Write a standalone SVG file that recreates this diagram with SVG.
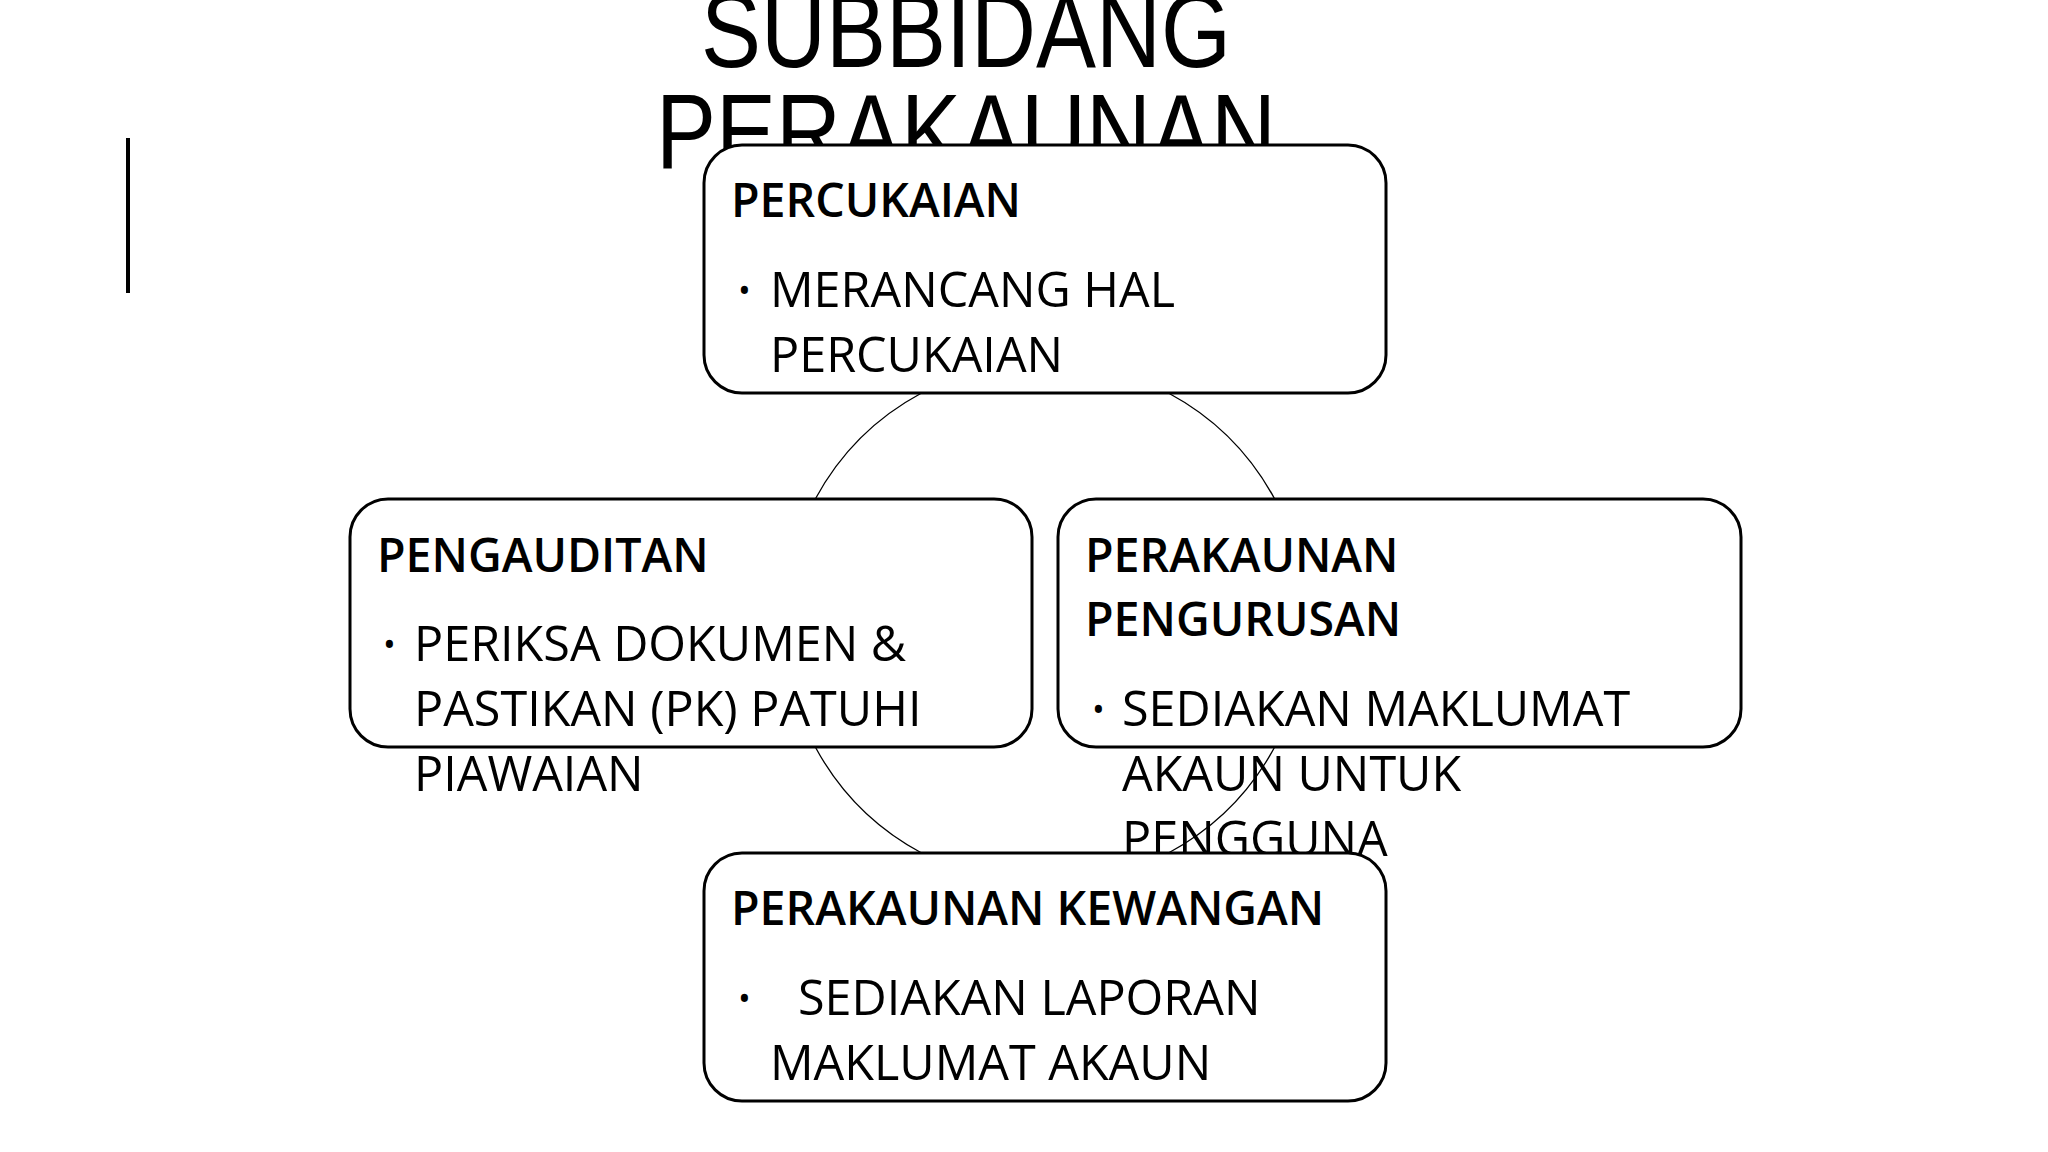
<svg xmlns="http://www.w3.org/2000/svg" width="2048" height="1152" viewBox="0 0 2048 1152">
<style>
.title{font-family:"Liberation Sans",Arial,sans-serif;font-size:90px;fill:#000;}
.box{fill:#fff;stroke:#000;stroke-width:3;}
.hd{font-family:"Open Sans","Noto Sans",sans-serif;font-size:46.5px;font-weight:600;fill:#000;}
.tx{font-family:"Open Sans","Noto Sans",sans-serif;font-size:48.5px;fill:#000;}
.bl{font-family:"Open Sans","Noto Sans",sans-serif;font-size:34px;fill:#000;}
.arc{fill:none;stroke:#000;stroke-width:1.3;}
</style>
<rect width="2048" height="1152" fill="#fff"/>
<rect x="126" y="138" width="4" height="155" fill="#000"/>
<g id="title" transform="translate(966,0) scale(1,1.18)">
<text class="title" x="0" y="56.5" text-anchor="middle">SUBBIDANG</text>
<text class="title" x="0" y="142" text-anchor="middle">PERAKAUNAN</text>
</g>
<g id="connectors">
<path class="arc" d="M921.6 393 A261 261 0 0 0 815.3 499"/>
<path class="arc" d="M1168.4 393 A261 261 0 0 1 1274.7 499"/>
<path class="arc" d="M815.3 747 A261 261 0 0 0 921.6 853"/>
<path class="arc" d="M1274.7 747 A261 261 0 0 1 1168.4 853"/>
</g>
<g id="node-percukaian">
<rect class="box" x="704" y="145" width="682" height="248" rx="38"/>
<text class="hd" x="731" y="217">PERCUKAIAN</text>
<text class="bl" x="738" y="303">•</text>
<text class="tx" x="770" y="307">MERANCANG HAL</text>
<text class="tx" x="770" y="372">PERCUKAIAN</text>
</g>
<g id="node-pengauditan">
<rect class="box" x="350" y="499" width="682" height="248" rx="38"/>
<text class="hd" x="377" y="572">PENGAUDITAN</text>
<text class="bl" x="383" y="657">•</text>
<text class="tx" x="414" y="661">PERIKSA DOKUMEN &amp;</text>
<text class="tx" x="414" y="726">PASTIKAN (PK) PATUHI</text>
<text class="tx" x="414" y="791">PIAWAIAN</text>
</g>
<g id="node-perakaunan-pengurusan">
<rect class="box" x="1058" y="499" width="683" height="248" rx="38"/>
<text class="hd" x="1085" y="572">PERAKAUNAN</text>
<text class="hd" x="1085" y="636">PENGURUSAN</text>
<text class="bl" x="1092" y="722">•</text>
<text class="tx" x="1122" y="726">SEDIAKAN MAKLUMAT</text>
<text class="tx" x="1122" y="791">AKAUN UNTUK</text>
<text class="tx" x="1122" y="856">PENGGUNA</text>
</g>
<g id="node-perakaunan-kewangan">
<rect class="box" x="704" y="853" width="682" height="248" rx="38"/>
<text class="hd" x="731" y="925">PERAKAUNAN KEWANGAN</text>
<text class="bl" x="738" y="1011">•</text>
<text class="tx" x="798" y="1015">SEDIAKAN LAPORAN</text>
<text class="tx" x="770" y="1080">MAKLUMAT AKAUN</text>
</g>
</svg>
